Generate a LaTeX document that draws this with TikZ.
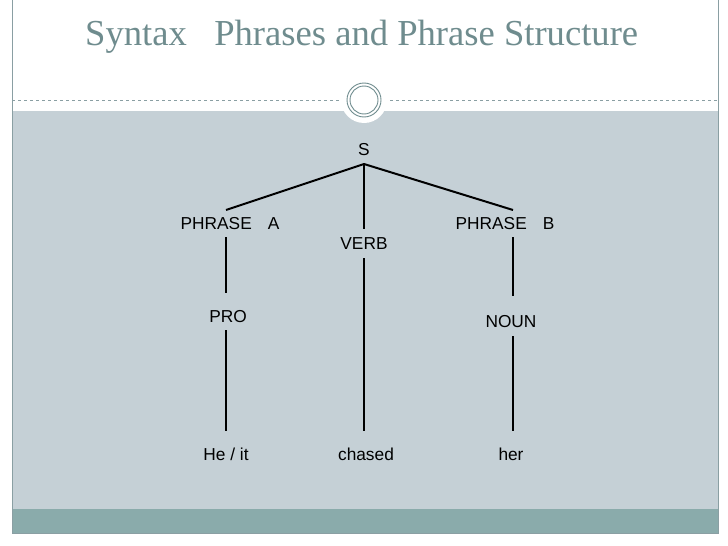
\documentclass[tikz,border=0pt]{standalone}
\usepackage{fontspec}
\setmainfont{Liberation Sans}
\newfontfamily\titlefont{Liberation Serif}
\definecolor{band}{HTML}{C5D0D6}
\definecolor{teal}{HTML}{8AABAB}
\definecolor{ttl}{HTML}{6F8C8E}
\definecolor{frame}{HTML}{8A9FA3}
\begin{document}
\begin{tikzpicture}[x=1pt,y=-1pt,
  lab/.style={font=\fontsize{17.3}{20}\selectfont, inner sep=1pt},
  br/.style={line width=2pt, black}]
\useasboundingbox (0,0) rectangle (728,546);
\fill[white] (0,0) rectangle (728,546);
\fill[band] (12,111) rectangle (718,509);
\fill[teal] (12,509) rectangle (718,533);
\draw[frame, line width=0.6pt] (12,0) -- (12,533) -- (718,533) -- (718,0);
\draw[frame, dashed, line width=0.5pt] (12,100) -- (718,100);
\fill[white] (364,100) circle (23);
\draw[ttl, line width=0.9pt] (364,100) circle (17);
\draw[ttl, line width=0.9pt] (364,100) circle (14);
\node[anchor=base west, text=ttl, font=\titlefont\fontsize{36.6}{42}\selectfont, inner sep=0] (title) at (85,45) {Syntax\ \ \ Phrases and Phrase Structure};
\node[lab] (S) at (364,150) {S};
\node[lab] (PA) at (230,224) {PHRASE\hspace{16pt}A};
\node[lab] (V) at (364,244) {VERB};
\node[lab] (PB) at (505,224) {PHRASE\hspace{16pt}B};
\node[lab] (PRO) at (228,317) {PRO};
\node[lab] (N) at (511,322) {NOUN};
\node[lab] (he) at (226,454) {He / it};
\node[lab] (ch) at (366,454) {chased};
\node[lab] (her) at (511,454) {her};
\coordinate (s0) at (364,164);
\draw[br] (s0) -- (226,210);
\draw[br] (s0) -- (364,229);
\draw[br] (s0) -- (513,210);
\draw[br] (226,237) -- (226,293);
\draw[br] (226,330) -- (226,431);
\draw[br] (364,258) -- (364,431);
\draw[br] (513,237) -- (513,296);
\draw[br] (513,336) -- (513,431);
\end{tikzpicture}
\end{document}
